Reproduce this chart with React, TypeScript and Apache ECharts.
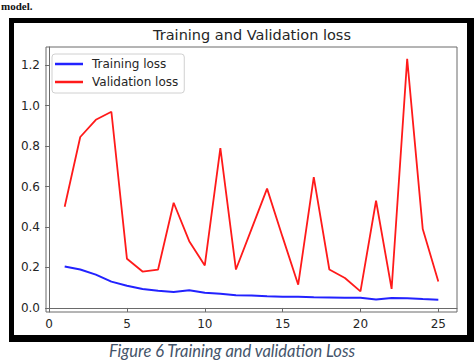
import React, { useEffect, useRef } from "react";
import * as echarts from "echarts";

const epochs = [1, 2, 3, 4, 5, 6, 7, 8, 9, 10, 11, 12, 13, 14, 15, 16, 17, 18, 19, 20, 21, 22, 23, 24, 25];
const trainingLoss = [0.205, 0.19, 0.165, 0.13, 0.11, 0.094, 0.085, 0.079, 0.087, 0.075, 0.07, 0.063, 0.062, 0.058, 0.055, 0.055, 0.053, 0.052, 0.051, 0.05, 0.042, 0.049, 0.048, 0.044, 0.041];
const validationLoss = [0.5, 0.845, 0.93, 0.97, 0.243, 0.18, 0.19, 0.52, 0.33, 0.21, 0.79, 0.19, 0.39, 0.59, 0.35, 0.115, 0.647, 0.19, 0.148, 0.082, 0.53, 0.094, 1.231, 0.39, 0.131];
const xTicks = [0, 5, 10, 15, 20, 25];
const yTicks = [0, 0.2, 0.4, 0.6, 0.8, 1.0, 1.2];
const seriesNames = ["Training loss", "Validation loss"];
const titleText = "Training and Validation loss";
const captionText = "Figure 6 Training and validation Loss";
const topFragment = "model.";

export default function App() {
  const ref = useRef<HTMLDivElement>(null);
  useEffect(() => {
    if (!ref.current) return;
    const chart = echarts.init(ref.current, null, { renderer: "svg" });
    const font = "DejaVu Sans";
    const axisColor = "#6a6a6a";
    const labelColor = "#262626";
    chart.setOption({
      animation: false,
      backgroundColor: "#ffffff",
      title: {
        text: titleText,
        left: 252,
        top: 27,
        padding: 0,
        textAlign: "center",
        textStyle: { fontSize: 14.5, fontWeight: "normal", fontFamily: font, color: labelColor },
      },
      graphic: [
        {
          type: "rect",
          z: -10,
          silent: true,
          shape: { x: 9, y: 18, width: 465, height: 324 },
          style: { fill: "#000000" },
        },
        {
          type: "rect",
          z: -9,
          silent: true,
          shape: { x: 14, y: 23, width: 453, height: 312 },
          style: { fill: "#ffffff" },
        },
        {
          type: "text",
          x: 1,
          y: 0,
          style: {
            text: topFragment,
            fontSize: 11,
            fontWeight: "bold",
            fontFamily: "Liberation Serif",
            fill: "#111111",
            align: "left",
            verticalAlign: "top",
          },
        },
        {
          type: "text",
          x: 232,
          y: 351,
          style: {
            text: captionText,
            fontSize: 16.5,
            fontStyle: "italic",
            fontFamily: "Lato",
            fill: "#44546a",
            align: "center",
            verticalAlign: "middle",
          },
        },
      ],
      legend: {
        show: true,
        orient: "vertical",
        left: 52,
        top: 54,
        padding: [3, 6, 4, 3],
        itemGap: 4,
        itemWidth: 28,
        itemHeight: 2.5,
        icon: "rect",
        backgroundColor: "rgba(255,255,255,0.85)",
        borderColor: "#d0d0d0",
        borderWidth: 1,
        borderRadius: 3,
        textStyle: { fontSize: 12, fontFamily: font, color: labelColor, lineHeight: 14, padding: [0, 0, 0, 4] },
        data: seriesNames,
      },
      grid: {
        left: 46,
        top: 47,
        right: 17,
        bottom: 49,
        show: true,
        borderColor: axisColor,
        borderWidth: 1,
        backgroundColor: "transparent",
        containLabel: false,
      },
      xAxis: {
        type: "value",
        min: -0.2,
        max: 26.2,
        splitLine: { show: false },
        axisLine: { show: true, lineStyle: { color: axisColor, width: 1 } },
        axisTick: { show: true, length: 4, lineStyle: { color: axisColor }, customValues: xTicks },
        axisLabel: {
          customValues: xTicks,
          margin: 6,
          fontSize: 12,
          fontFamily: font,
          color: labelColor,
          formatter: (v: number) => String(v),
        },
      },
      yAxis: {
        type: "value",
        min: -0.02,
        max: 1.29,
        splitLine: { show: false },
        axisLine: { show: true, lineStyle: { color: axisColor, width: 1 } },
        axisTick: { show: true, length: 4, lineStyle: { color: axisColor }, customValues: yTicks },
        axisLabel: {
          customValues: yTicks,
          margin: 6,
          fontSize: 12,
          fontFamily: font,
          color: labelColor,
          formatter: (v: number) => v.toFixed(1),
        },
      },
      series: [
        {
          name: seriesNames[0],
          type: "line",
          data: epochs.map((e, i) => [e, trainingLoss[i]]),
          showSymbol: false,
          symbol: "none",
          color: "#2222ff",
          lineStyle: { color: "#2222ff", width: 2 },
        },
        {
          name: seriesNames[1],
          type: "line",
          data: epochs.map((e, i) => [e, validationLoss[i]]),
          showSymbol: false,
          symbol: "none",
          color: "#ff1a1a",
          lineStyle: { color: "#ff1a1a", width: 1.8 },
        },
      ],
    });
    return () => chart.dispose();
  }, []);
  return (
    <div
      ref={ref}
      style={{ position: "fixed", left: 0, top: 0, width: 474, height: 361 }}
    />
  );
}
